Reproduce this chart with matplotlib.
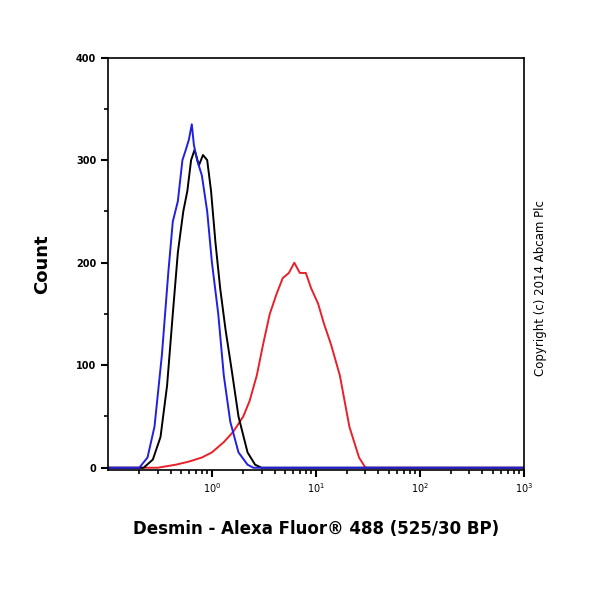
import numpy as np
import matplotlib.pyplot as plt
from matplotlib.ticker import LogLocator, MultipleLocator, NullFormatter

# curves (x in intensity, y in count)
blue_x = [0.1, 0.2, 0.24, 0.28, 0.33, 0.38, 0.42, 0.47, 0.52, 0.56, 0.6, 0.64, 0.67, 0.72, 0.8, 0.9, 1.0, 1.15, 1.3, 1.5, 1.8, 2.2, 2.5, 1000]
blue_y = [0, 0, 10, 40, 110, 190, 240, 260, 300, 310, 320, 335, 315, 300, 285, 250, 200, 150, 90, 45, 15, 3, 0, 0]
black_x = [0.1, 0.22, 0.27, 0.32, 0.37, 0.42, 0.47, 0.53, 0.58, 0.63, 0.68, 0.75, 0.82, 0.9, 0.98, 1.08, 1.2, 1.35, 1.55, 1.8, 2.2, 2.6, 3.0, 1000]
black_y = [0, 0, 8, 30, 80, 150, 210, 250, 270, 300, 310, 295, 305, 300, 270, 220, 175, 135, 95, 50, 15, 3, 0, 0]
red_x = [0.1, 0.3, 0.45, 0.6, 0.8, 1.0, 1.3, 1.6, 2.0, 2.3, 2.7, 3.1, 3.6, 4.2, 4.8, 5.5, 6.2, 7.0, 8.0, 9.0, 10.5, 12, 14, 17, 21, 26, 30, 1000]
red_y = [0, 0, 3, 6, 10, 15, 25, 35, 50, 65, 90, 120, 150, 170, 185, 190, 200, 190, 190, 175, 160, 140, 120, 90, 40, 10, 0, 0]

fig = plt.figure(figsize=(6, 6), dpi=100)
ax = fig.add_axes([0.18, 0.217, 0.693, 0.687])
ax.plot(red_x, red_y, color='#e8202a', lw=1.4)
ax.plot(black_x, black_y, color='black', lw=1.4)
ax.plot(blue_x, blue_y, color='#2020e0', lw=1.4)
ax.set_xscale('log')
ax.set_xlim(0.1, 1000)
ax.set_ylim(-2, 400)
ax.set_xticks([1, 10, 100, 1000])
ax.set_xticklabels(['$10^0$', '$10^1$', '$10^2$', '$10^3$'], fontsize=7)
ax.xaxis.set_minor_locator(LogLocator(base=10, subs=np.arange(2, 10)))
ax.xaxis.set_minor_formatter(NullFormatter())
ax.set_yticks([0, 100, 200, 300, 400])
ax.yaxis.set_minor_locator(MultipleLocator(50))
ax.tick_params(axis='y', labelsize=7)
for lab in ax.get_yticklabels():
    lab.set_fontweight('bold')
ax.tick_params(which='major', direction='out', length=5, width=1.5)
ax.tick_params(which='minor', direction='out', length=3, width=1.2)
for s in ax.spines.values():
    s.set_linewidth(1.2)
ax.set_ylabel('Count', fontsize=13, fontweight='bold', labelpad=18)
ax.set_xlabel('Desmin - Alexa Fluor® 488 (525/30 BP)', fontsize=12, fontweight='bold', labelpad=18)
fig.text(0.89, 0.52, 'Copyright (c) 2014 Abcam Plc', rotation=90, fontsize=8.5, va='center')
fig.savefig('out.png', dpi=100)
